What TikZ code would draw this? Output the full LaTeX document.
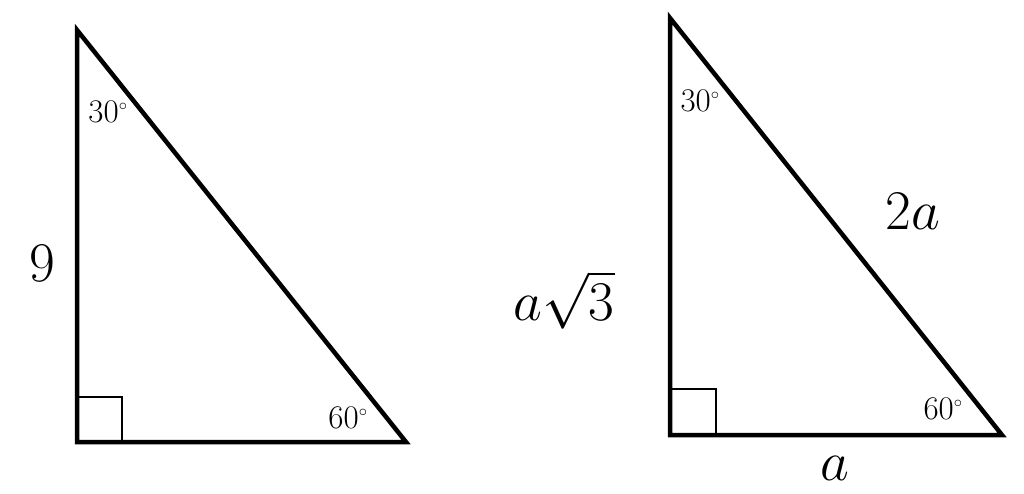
\RequirePackage{fix-cm}
\documentclass[tikz,border=0pt]{standalone}
\begin{document}
\begin{tikzpicture}[x=1pt,y=-1pt,
  side/.style={line width=4.5pt,line join=miter},
  rightmark/.style={line width=2pt},
  anglab/.style={font=\fontsize{33}{36}\selectfont,inner sep=0pt},
  sidelab/.style={font=\fontsize{56}{60}\selectfont,inner sep=0pt}]
\useasboundingbox (0,0) rectangle (1024,494);
% left triangle
\coordinate (A1) at (77,30);
\coordinate (B1) at (77,442);
\coordinate (C1) at (406,442);
\draw[side] (A1) -- (B1) -- (C1) -- cycle;
\coordinate (S1a) at (77,397);
\coordinate (S1b) at (122,397);
\coordinate (S1c) at (122,442);
\draw[rightmark] (S1a) -- (S1b) -- (S1c);
\node[anglab] (l30) at (108,112) {$30^{\scriptscriptstyle\circ}$};
\node[anglab] (l60) at (348,418) {$60^{\scriptscriptstyle\circ}$};
\node[sidelab] (l9) at (42,263) {$9$};
% right triangle
\coordinate (A2) at (670,18);
\coordinate (B2) at (670,435);
\coordinate (C2) at (1002,435);
\draw[side] (A2) -- (B2) -- (C2) -- cycle;
\coordinate (S2a) at (670,389);
\coordinate (S2b) at (716,389);
\coordinate (S2c) at (716,435);
\draw[rightmark] (S2a) -- (S2b) -- (S2c);
\node[anglab] (r30) at (700,101) {$30^{\scriptscriptstyle\circ}$};
\node[anglab] (r60) at (943,409) {$60^{\scriptscriptstyle\circ}$};
\node[sidelab] (r2a) at (913,211) {$2a$};
\node[sidelab] (ra3) at (564,300) {$a\sqrt{3}$};
\node[sidelab] (ra) at (835,468) {$a$};
\end{tikzpicture}
\end{document}
